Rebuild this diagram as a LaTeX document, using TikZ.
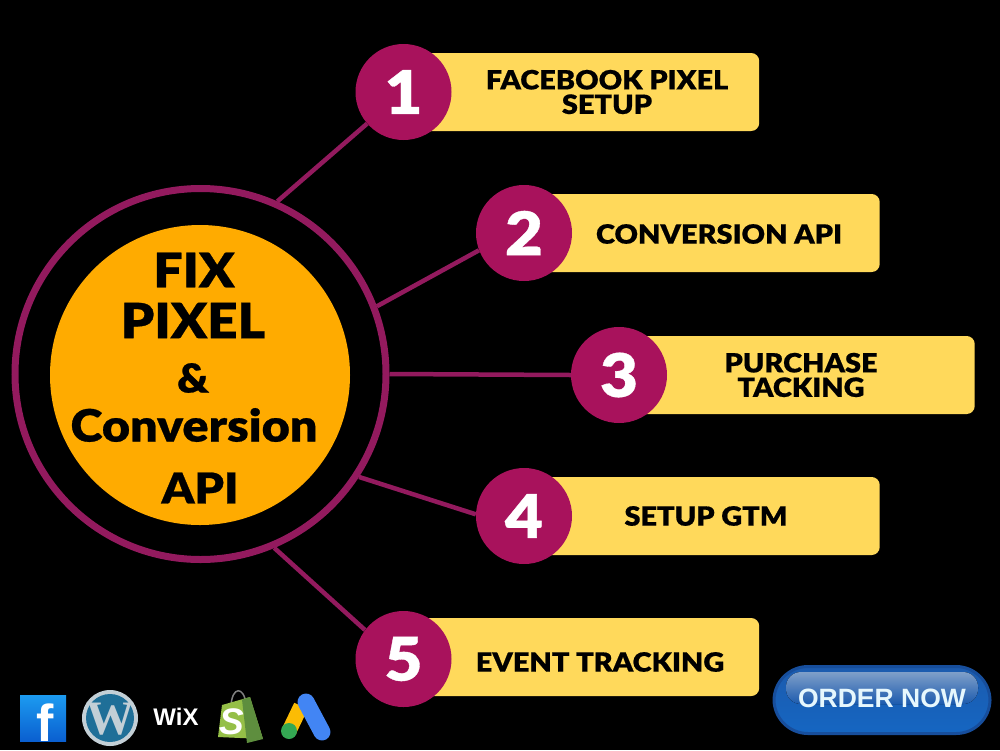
\documentclass[tikz,border=0pt]{standalone}
\usepackage{fontspec}
\setmainfont{Liberation Sans}
\newfontfamily\heavyfont[UprightFont=* Black,FakeStretch=1.09,FakeBold=0.6]{Lato}
\newfontfamily\serifbold[UprightFont=* Bold]{Liberation Serif}
\usetikzlibrary{
  shadings,
}
\definecolor{plum}{HTML}{A8125C}
\definecolor{ringplum}{HTML}{931A5E}
\definecolor{barfill}{HTML}{FFD95B}
\definecolor{hubfill}{HTML}{FFAB00}
\definecolor{btnrim}{HTML}{1C5BAE}
\definecolor{btnedge}{HTML}{174E9C}
\definecolor{btnlow}{HTML}{1566C2}
\definecolor{btngloss}{HTML}{7F9FC9}
\definecolor{wpblue}{HTML}{1F6F98}
\definecolor{wpgrey}{HTML}{C3CFD6}
\definecolor{shoplight}{HTML}{95BF47}
\definecolor{shopdark}{HTML}{5E8E3E}
\definecolor{adsblue}{HTML}{4285F4}
\definecolor{adsyellow}{HTML}{FBBC04}
\definecolor{adsgreen}{HTML}{34A853}
\definecolor{fbtop}{HTML}{1C9BF0}
\definecolor{fblow}{HTML}{0A5FD0}
\newcommand{\hubsize}[1]{\heavyfont\fontsize{#1}{#1}\selectfont}
\tikzset{
  numdot/.style={circle, fill=plum, minimum size=96pt, inner sep=0pt, text=white,
    font=\hubsize{60}},
  barbox/.style={rectangle, fill=barfill, rounded corners=8pt, minimum width=355.5pt,
    minimum height=78pt, inner sep=0pt},
  barlabel/.style={align=center, text=black, font=\hubsize{26.5}},
  hubtext/.style={text=black, inner sep=0pt},
  link/.style={draw=ringplum, line width=4.5pt},
}
\begin{document}
\begin{tikzpicture}[x=1pt,y=-1pt]
\fill[black] (0,0) rectangle (1000,750);
\useasboundingbox (0,0) rectangle (1000,750);
% centre
\node[circle, draw=ringplum, line width=7pt, minimum size=371pt, inner sep=0pt] (ring) at (200.5,374) {};
\node[circle, fill=hubfill, minimum size=300pt, inner sep=0pt] (hub) at (200,375) {};
\node[hubtext, font=\hubsize{47.5}] (fix) at (194,270) {FIX};
\node[hubtext, font=\hubsize{48.5}] (pixel) at (193,320.5) {PIXEL};
\node[hubtext, font=\hubsize{40}] (amp) at (193,378) {\&};
\node[hubtext, font=\hubsize{44.5}] (conv) at (194,425) {Conversion};
\node[hubtext, font=\hubsize{42.5}] (api) at (200,488) {API};
% rows
\foreach \n/\cx/\cy/\by/\tx/\ty/\txt in {
  1/403.5/92/92/607/92/{FACEBOOK PIXEL\\[-2pt]SETUP},
  2/524/233/233/719/234/{CONVERSION API},
  3/619/375/375/801/375/{PURCHASE\\[-2pt]TACKING},
  4/524/516/516/706/516/{SETUP GTM},
  5/403.5/659/657/600/662/{EVENT TRACKING}} {
  \node[barbox, anchor=west] (bar\n) at (\cx,\by) {};
  \node[numdot] (num\n) at (\cx,\cy) {\n};
  \node[barlabel] (label\n) at (\tx,\ty) {\txt};
}
\draw[link] (ring.66) -- (num1.221);
\draw[link] (ring.21) -- (num2.201);
\draw[link] (ring.0) -- (num3.180);
\draw[link] (ring.-33) -- (num4.178);
\draw[link] (ring.-67) -- (num5.143);
% button
\node[rectangle, rounded corners=34pt, minimum width=216pt, minimum height=67pt, inner sep=0pt,
  draw=btnedge, line width=3pt, top color=btnrim, bottom color=btnlow] (order) at (882,700) {};
\fill[top color=btngloss, bottom color=btnrim, rounded corners=15pt]
  (786,672) rectangle (978,704);
\node[text=white!90!cyan, font=\bfseries\fontsize{26.5}{26.5}\selectfont] (ordertext) at (882,698) {ORDER NOW};
% logos
\fill[top color=fbtop, bottom color=fblow] (20,695) rectangle (66,741);
\begin{scope}
\clip (20,695) rectangle (66,741);
\node[text=white, anchor=base, inner sep=0pt, font=\bfseries\fontsize{52}{52}\selectfont] (fb) at (45,741) {f};
\end{scope}
\fill[wpgrey] (110,718) circle[radius=28];
\fill[wpblue] (110,718) circle[radius=24];
\node[text=wpgrey, font=\serifbold\fontsize{48}{48}\selectfont] (wp) at (110,719) {W};
\node[text=white, font=\bfseries\fontsize{24}{24}\selectfont] (wix) at (176,717) {WiX};
\draw[gray, line width=1.5pt] (231,706) .. controls (232,686) and (244,686) .. (246,704);
\fill[shoplight] (222,705) -- (250,697) -- (263,739) -- (218,737) -- cycle;
\fill[shopdark] (242,699.5) -- (250,697) -- (263,739) -- (247,743) -- cycle;
\node[text=white, font=\bfseries\itshape\fontsize{37}{37}\selectfont] (shop) at (232,722) {S};
\draw[adsyellow, line width=15pt] (301,706) -- (289,731);
\draw[adsblue, line width=17pt, line cap=round] (306,702) -- (322,732);
\fill[adsgreen] (289,731) circle[radius=8];
\end{tikzpicture}
\end{document}
